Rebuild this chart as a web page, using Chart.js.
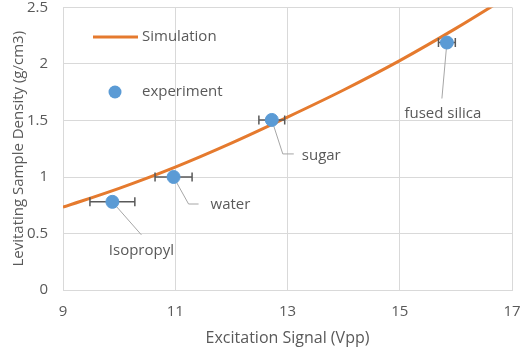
<!DOCTYPE html>
<html>
<head>
<meta charset="utf-8">
<script src="https://cdn.jsdelivr.net/npm/chart.js@4.4.1/dist/chart.umd.min.js"></script>
<style>
  html, body { margin: 0; padding: 0; background: #fff; }
  #wrap { width: 520px; height: 351px; }
</style>
</head>
<body>
<div id="wrap"><canvas id="grafico" width="520" height="351"></canvas></div>
<script>
// Datos
const simX = [9, 10, 11, 12, 13, 14, 15, 16, 17];
const simY = [0.733, 0.90, 1.088, 1.30, 1.53, 1.77, 2.03, 2.315, 2.62];
const sampleNames = ['Isopropyl', 'water', 'sugar', 'fused silica'];
const sampleX = [9.88, 10.97, 12.72, 15.84];
const sampleY = [0.78, 1.0, 1.505, 2.19];
const sampleErr = [0.4, 0.33, 0.23, 0.15];
const xTicks = [9, 11, 13, 15, 17];
const yTicks = [0, 0.5, 1, 1.5, 2, 2.5];

// posicion de las etiquetas (pixeles relativos al punto)
const labelLayout = [
  { leader: [[29, 33]], text: [29, 49], align: 'center' },
  { leader: [[15, 27], [25, 27]], text: [37, 28], align: 'left' },
  { leader: [[11, 34], [22, 34]], text: [30, 36], align: 'left' },
  { leader: [[-5, 56]], text: [-4, 71], align: 'center' }
];

const FONT = '"Open Sans", sans-serif';
const GRIS = '#595959';
const NARANJA = '#E57A2E';

const extras = {
  id: 'extras',
  beforeDatasetDraw(chart, args) {
    if (args.index !== 1) return;
    const ctx = chart.ctx;
    const xs = chart.scales.x, ys = chart.scales.y;
    ctx.save();
    // lineas guia de etiquetas
    ctx.strokeStyle = '#a6a6a6';
    ctx.lineWidth = 1;
    sampleX.forEach((v, i) => {
      const px = xs.getPixelForValue(v), py = ys.getPixelForValue(sampleY[i]);
      ctx.beginPath();
      ctx.moveTo(px, py);
      labelLayout[i].leader.forEach(p => ctx.lineTo(px + p[0], py + p[1]));
      ctx.stroke();
    });
    // barras de error
    ctx.strokeStyle = GRIS;
    ctx.lineWidth = 1.5;
    sampleX.forEach((v, i) => {
      const x1 = xs.getPixelForValue(v - sampleErr[i]);
      const x2 = xs.getPixelForValue(v + sampleErr[i]);
      const py = ys.getPixelForValue(sampleY[i]);
      ctx.beginPath();
      ctx.moveTo(x1, py); ctx.lineTo(x2, py);
      ctx.moveTo(x1, py - 4.5); ctx.lineTo(x1, py + 4.5);
      ctx.moveTo(x2, py - 4.5); ctx.lineTo(x2, py + 4.5);
      ctx.stroke();
    });
    ctx.restore();
  },
  afterDatasetsDraw(chart) {
    const ctx = chart.ctx;
    const xs = chart.scales.x, ys = chart.scales.y;
    ctx.save();
    ctx.font = '15px ' + FONT;
    ctx.fillStyle = GRIS;
    ctx.textBaseline = 'middle';
    sampleNames.forEach((name, i) => {
      const px = xs.getPixelForValue(sampleX[i]), py = ys.getPixelForValue(sampleY[i]);
      const l = labelLayout[i];
      ctx.textAlign = l.align;
      ctx.fillText(name, px + l.text[0], py + l.text[1]);
    });
    // leyenda dentro del area
    ctx.textAlign = 'left';
    ctx.strokeStyle = NARANJA;
    ctx.lineWidth = 3;
    ctx.beginPath();
    ctx.moveTo(93, 37); ctx.lineTo(138, 37);
    ctx.stroke();
    ctx.fillText('Simulation', 142, 37);
    ctx.fillStyle = '#5B9BD5';
    ctx.beginPath();
    ctx.arc(115, 92, 6.5, 0, Math.PI * 2);
    ctx.fill();
    ctx.fillStyle = GRIS;
    ctx.fillText('experiment', 142, 92);
    ctx.restore();
  }
};

const ctx = document.getElementById('grafico').getContext('2d');
new Chart(ctx, {
  type: 'scatter',
  data: {
    datasets: [
      {
        label: 'Simulation',
        data: simX.map((x, i) => ({ x: x, y: simY[i] })),
        showLine: true,
        borderColor: NARANJA,
        borderWidth: 3,
        pointRadius: 0,
        cubicInterpolationMode: 'monotone',
        order: 2
      },
      {
        label: 'experiment',
        data: sampleX.map((x, i) => ({ x: x, y: sampleY[i] })),
        backgroundColor: '#5B9BD5',
        borderColor: '#5B9BD5',
        pointRadius: 6.5,
        order: 1
      }
    ]
  },
  options: {
    responsive: false,
    animation: false,
    layout: { padding: { top: 6, right: 8, left: 0, bottom: 0 } },
    plugins: { legend: { display: false }, tooltip: { enabled: false } },
    scales: {
      x: {
        type: 'linear',
        min: 9, max: 17,
        afterBuildTicks: s => { s.ticks = xTicks.map(v => ({ value: v })); },
        afterFit: s => { s.height = 61; s.paddingLeft = 0; s.paddingRight = 0; },
        grid: { color: '#d9d9d9', drawTicks: false },
        border: { color: '#d9d9d9' },
        ticks: { color: GRIS, padding: 13, font: { family: FONT, size: 15 } },
        title: { display: true, text: 'Excitation Signal (Vpp)', color: GRIS,
                 font: { family: FONT, size: 16 }, padding: { top: 0, bottom: 3 } }
      },
      y: {
        min: 0, max: 2.5,
        afterBuildTicks: s => { s.ticks = yTicks.map(v => ({ value: v })); },
        afterFit: s => { s.width = 63; s.paddingTop = 0; s.paddingBottom = 0; },
        grid: { color: '#d9d9d9', drawTicks: false },
        border: { color: '#d9d9d9' },
        ticks: { color: GRIS, padding: 15, font: { family: FONT, size: 15 },
                 callback: v => String(v) },
        title: { display: true, text: 'Levitating Sample Density (g/cm3)', color: GRIS,
                 font: { family: FONT, size: 15 }, padding: { top: 10, bottom: 0 } }
      }
    }
  },
  plugins: [extras]
});
</script>
</body>
</html>
